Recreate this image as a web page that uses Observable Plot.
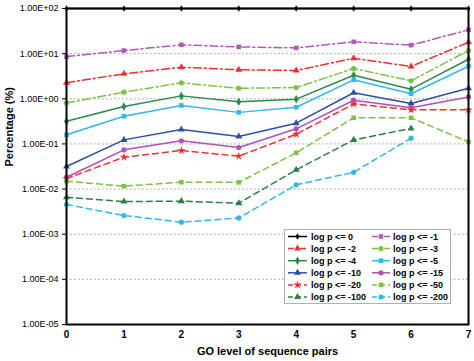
<!DOCTYPE html>
<html>
<head>
<meta charset="utf-8">
<script src="https://cdn.jsdelivr.net/npm/d3@7"></script>
<script src="https://cdn.jsdelivr.net/npm/@observablehq/plot@0.6"></script>
<style>
  html, body { margin: 0; padding: 0; background: #fff; }
  #chart { position: relative; width: 474px; height: 361px; }
  #chart svg { display: block; }
</style>
</head>
<body>
<div id="chart"></div>
<script>
// ---- data ----
const levels = [0, 1, 2, 3, 4, 5, 6, 7];
const yTicks = [1e-5, 1e-4, 1e-3, 1e-2, 1e-1, 1, 10, 100];
const seriesNames = ["log p <= 0", "log p <= -1", "log p <= -2", "log p <= -3",
  "log p <= -4", "log p <= -5", "log p <= -10", "log p <= -15",
  "log p <= -20", "log p <= -50", "log p <= -100", "log p <= -200"];
const p0   = [100, 100, 100, 100, 100, 100, 100, 100];
const p1   = [8.6, 11.7, 15.7, 14.1, 13.4, 18.3, 15.4, 33.7];
const p2   = [2.26, 3.57, 5.0, 4.4, 4.24, 7.9, 5.2, 17.9];
const p3   = [0.81, 1.40, 2.26, 1.71, 1.77, 4.69, 2.5, 11.7];
const p4   = [0.318, 0.675, 1.16, 0.86, 0.98, 3.33, 1.63, 7.5];
const p5   = [0.159, 0.41, 0.71, 0.50, 0.65, 2.63, 1.29, 5.27];
const p10  = [0.0316, 0.123, 0.208, 0.146, 0.288, 1.36, 0.785, 1.71];
const p15  = [0.0183, 0.074, 0.117, 0.083, 0.216, 0.93, 0.63, 1.1];
const p20  = [0.017, 0.0508, 0.0715, 0.0535, 0.164, 0.77, 0.57, 0.57];
const p50  = [0.0149, 0.0116, 0.0142, 0.0141, 0.0636, 0.38, 0.38, 0.111];
const p100 = [0.0066, 0.0053, 0.0054, 0.00486, 0.0267, 0.123, 0.22, null];
const p200 = [0.00455, 0.0026, 0.00185, 0.0023, 0.0124, 0.0236, 0.134, null];
const seriesValues = [p0, p1, p2, p3, p4, p5, p10, p15, p20, p50, p100, p200];

// ---- styles ----
const colors = ["#000000", "#b259b5", "#f03030", "#7cc243", "#2a8a48", "#2fb8ec",
  "#2d4ea8", "#b24fb8", "#f03030", "#7cc243", "#2a7d45", "#2fb8ec"];
const symbols = ["diamond", "square", "triangle", "circle", "diamond", "square",
  "triangle", "circle", "star", "square", "triangle", "circle"];
const DASHDOT = "8,3,2,3", DASH = "6,4";
const dashes = [null, DASHDOT, DASHDOT, DASHDOT, null, null, null, null, DASH, DASH, DASH, DASH];

const fmt = d => {
  const e = Math.round(Math.log10(d));
  return "1.00E" + (e < 0 ? "-" : "+") + String(Math.abs(e)).padStart(2, "0");
};

const marks = [
  Plot.gridY(yTicks.slice(1, -1), {stroke: "#9a9a9a", strokeOpacity: 1, strokeWidth: 1, strokeDasharray: "1.5,2.5"}),
  Plot.axisY(yTicks, {tickFormat: fmt, tickSize: 4, tickPadding: 4, fontSize: 9, label: null}),
  Plot.axisX(levels, {tickFormat: d => String(d), tickSize: 0, tickPadding: 6, fontSize: 10, fontWeight: "bold", label: null}),
  Plot.text(["Percentage (%)"], {frameAnchor: "left", dx: -57, rotate: -90, fontWeight: "bold", fontSize: 11}),
  Plot.text(["GO level of sequence pairs"], {frameAnchor: "bottom", dy: 30, fontWeight: "bold", fontSize: 11}),
];

seriesValues.forEach((vals, i) => {
  const rows = levels.map((x, j) => ({x, y: vals[j]})).filter(d => d.y != null);
  const lineOpts = {x: "x", y: "y", stroke: colors[i], strokeWidth: 1.5};
  if (dashes[i]) lineOpts.strokeDasharray = dashes[i];
  marks.push(Plot.line(rows, lineOpts));
  marks.push(Plot.dot(rows, {x: "x", y: "y", symbol: () => symbols[i], fill: colors[i], stroke: "none", r: i === 0 ? 2 : 2.6}));
});

marks.push(Plot.frame({stroke: "#000", strokeWidth: 2}));

const chart = Plot.plot({
  width: 474,
  height: 361,
  marginLeft: 66,
  marginRight: 6,
  marginTop: 8,
  marginBottom: 37,
  style: {fontFamily: "'Liberation Sans', Arial, sans-serif", background: "#fff", color: "#000"},
  x: {domain: [0, 7]},
  y: {type: "log", domain: [1e-5, 100]},
  symbol: {type: "identity"},
  marks
});
document.getElementById("chart").appendChild(chart);

// ---- legend (overlay inside the plot area) ----
const lg = d3.select("#chart").append("svg")
  .style("position", "absolute").style("left", "284px").style("top", "229px")
  .attr("width", 167).attr("height", 75)
  .style("font-family", "'Liberation Sans', Arial, sans-serif");
lg.append("rect").attr("x", 0.5).attr("y", 0.5).attr("width", 166).attr("height", 74)
  .attr("fill", "#fff").attr("stroke", "#b0b0b0");
const symMap = {diamond: d3.symbolDiamond, square: d3.symbolSquare, triangle: d3.symbolTriangle, circle: d3.symbolCircle, star: d3.symbolStar};
seriesNames.forEach((name, i) => {
  const col = i % 2, row = Math.floor(i / 2);
  const cy = 7.5 + row * 12.1;
  const x0 = col === 0 ? 4 : 88, x1 = col === 0 ? 23 : 106, tx = col === 0 ? 27 : 109;
  const g = lg.append("g");
  const ln = g.append("line").attr("x1", x0).attr("x2", x1).attr("y1", cy).attr("y2", cy)
    .attr("stroke", colors[i]).attr("stroke-width", 1.5);
  if (dashes[i]) ln.attr("stroke-dasharray", dashes[i] === DASH ? "5,3" : "6,2,2,2");
  g.append("path").attr("d", d3.symbol(symMap[symbols[i]], i === 0 ? 13 : 21)())
    .attr("transform", `translate(${(x0 + x1) / 2},${cy})`).attr("fill", colors[i]);
  g.append("text").attr("x", tx).attr("y", cy).attr("dy", "0.35em")
    .attr("font-size", 9).attr("font-weight", "bold").text(name);
});
</script>
</body>
</html>
